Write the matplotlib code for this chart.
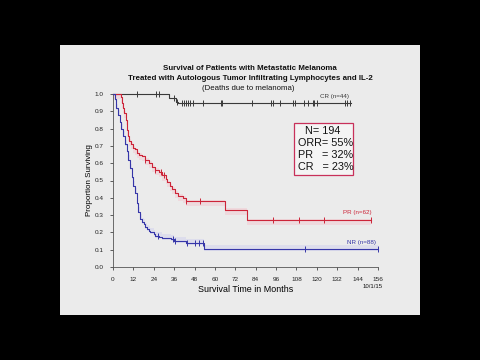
import matplotlib
matplotlib.use("Agg")
import matplotlib.pyplot as plt
from matplotlib.patches import Rectangle
import numpy as np

plt.rcParams['font.family'] = ['Liberation Sans', 'DejaVu Sans']

# ---- data ----
x_ticks = [0, 12, 24, 36, 48, 60, 72, 84, 96, 108, 120, 132, 144, 156]
y_ticks = [0.0, 0.1, 0.2, 0.3, 0.4, 0.5, 0.6, 0.7, 0.8, 0.9, 1.0]

cr_t = [0, 33, 37, 38, 140]
cr_s = [1.0, 0.977, 0.955, 0.947, 0.947]
cr_cens = [14, 25.3, 26.9, 36, 37.5, 40.6, 41.8, 43, 44, 45.3, 47, 53, 63.4, 64.2,
           81.8, 92.8, 94.3, 98.2, 106.1, 107, 112.6, 115, 117.5, 118.5, 119.9,
           136.5, 137.5, 139.5]

pr_t = [0, 4.5, 5.5, 6, 6.5, 7.5, 8, 8.5, 9, 9.5, 10.5, 11.5, 13, 14, 15.5, 17, 19,
        21, 23, 25, 27, 29, 31, 32, 33.5, 35, 36.5, 38, 41, 43, 66, 79, 152]
pr_s = [1.0, 0.98, 0.95, 0.92, 0.89, 0.85, 0.82, 0.79, 0.76, 0.73, 0.71, 0.69, 0.68,
        0.66, 0.65, 0.64, 0.62, 0.60, 0.58, 0.56, 0.55, 0.53, 0.51, 0.49, 0.47, 0.45,
        0.43, 0.41, 0.40, 0.38, 0.33, 0.27, 0.27]
pr_cens = [19, 25, 28, 30, 43, 51, 94.4, 109.7, 124, 151.8]

nr_t = [0, 1, 2, 3, 4, 5, 6, 7, 8, 9, 10, 11, 12, 13, 14, 15, 16, 17, 18, 19, 20,
        21, 22, 24, 25, 27, 29, 34, 36, 43, 53.5, 156]
nr_s = [1.0, 0.97, 0.92, 0.88, 0.84, 0.80, 0.76, 0.71, 0.67, 0.62, 0.57, 0.52, 0.47,
        0.43, 0.37, 0.32, 0.28, 0.26, 0.25, 0.23, 0.22, 0.21, 0.20, 0.19, 0.18, 0.175,
        0.165, 0.16, 0.148, 0.137, 0.105, 0.105]
nr_cens = [26.7, 35.5, 36.5, 43.4, 48.3, 50.8, 53.1, 113, 156]

box_lines = ["N= 194", "ORR= 55%", "PR   = 32%", "CR   = 23%"]

CR_COL = "#3a3a3a"
PR_COL = "#cc2438"
NR_COL = "#3636a8"
BG = "#ebebeb"


def surv_at(ts, ss, x):
    idx = np.searchsorted(ts, x, side="right") - 1
    return np.asarray(ss)[np.clip(idx, 0, len(ss) - 1)]


fig = plt.figure(figsize=(4.8, 3.6), dpi=100, facecolor="black")

# slide background
bg = fig.add_axes([60 / 480, 1 - 315 / 360, 360 / 480, 270 / 360])
bg.set_facecolor(BG)
bg.set_xticks([])
bg.set_yticks([])
for s in bg.spines.values():
    s.set_visible(False)
bg.set_zorder(0)

ax = fig.add_axes([113 / 480, 1 - 267 / 360, 265 / 480, 173 / 360])
ax.set_facecolor("none")
ax.set_zorder(1)

# faint halo bands seen around the PR and NR curves
ax.fill_between(pr_t, np.array(pr_s) - 0.03, np.array(pr_s) + 0.01, step="post",
                color="#f4b8c4", alpha=0.35, lw=0, zorder=2)
ax.fill_between(nr_t, np.array(nr_s) - 0.01, np.array(nr_s) + 0.025, step="post",
                color="#c4c4f0", alpha=0.35, lw=0, zorder=2)

for ts, ss, cens, col in [(cr_t, cr_s, cr_cens, CR_COL),
                          (pr_t, pr_s, pr_cens, PR_COL),
                          (nr_t, nr_s, nr_cens, NR_COL)]:
    ax.step(ts, ss, where="post", color=col, lw=0.8, zorder=3, clip_on=False)
    ax.plot(cens, surv_at(ts, ss, cens), ls="none", marker="|", ms=4,
            mew=0.7, color=col, zorder=4, clip_on=False)

ax.set_xlim(0, 156)
ax.set_ylim(0, 1.0)
ax.set_xticks(x_ticks)
ax.set_yticks(y_ticks)
ax.set_xticklabels([str(v) for v in x_ticks], fontsize=4.6)
ax.set_yticklabels([f"{v:.1f}" for v in y_ticks], fontsize=4.6)
ax.tick_params(length=2, width=0.5, pad=5, colors="#222222")
for s in ["top", "right"]:
    ax.spines[s].set_visible(False)
for s in ["left", "bottom"]:
    ax.spines[s].set_linewidth(0.6)
    ax.spines[s].set_color("#555555")

ax.set_xlabel("Survival Time in Months", fontsize=6.4, labelpad=2.5)
ax.set_ylabel("Proportion Surviving", fontsize=5.8, labelpad=1)

fig.text(250 / 480, 1 - 68 / 360, "Survival of Patients with Metastatic Melanoma",
         ha="center", va="center", fontsize=5.7, fontweight="bold", color="#111111",
         zorder=6)
fig.text(250 / 480, 1 - 78 / 360,
         "Treated with Autologous Tumor Infiltrating Lymphocytes and IL-2",
         ha="center", va="center", fontsize=5.7, fontweight="bold", color="#111111",
         zorder=6)
fig.text(248 / 480, 1 - 88 / 360, "(Deaths due to melanoma)",
         ha="center", va="center", fontsize=5.6, color="#111111", zorder=6)

ax.text(139, 0.985, "CR (n=44)", fontsize=4.5, color=CR_COL, ha="right", va="center")
ax.text(152, 0.315, "PR (n=62)", fontsize=4.5, color=PR_COL, ha="right", va="center")
ax.text(155, 0.14, "NR (n=88)", fontsize=4.5, color=NR_COL, ha="right", va="center")
fig.text(373 / 480, 1 - 287 / 360, "10/1/15", fontsize=4.3, ha="center",
         va="center", color="#111111", zorder=6)

# summary box
fig.patches.append(Rectangle((294 / 480, 1 - 175 / 360), 59 / 480, 52 / 360,
                             transform=fig.transFigure, facecolor="#f4f4f4",
                             edgecolor="#c8305a", lw=0.9, zorder=5))
fig.text(323 / 480, 1 - 131 / 360, box_lines[0], ha="center", va="center",
         fontsize=7.8, color="#111111", zorder=6)
for i, line in enumerate(box_lines[1:]):
    fig.text(298 / 480, 1 - (143 + 12 * i) / 360, line, ha="left", va="center",
             fontsize=7.8, color="#111111", zorder=6)

fig.savefig("out.png", dpi=100, facecolor="black")
